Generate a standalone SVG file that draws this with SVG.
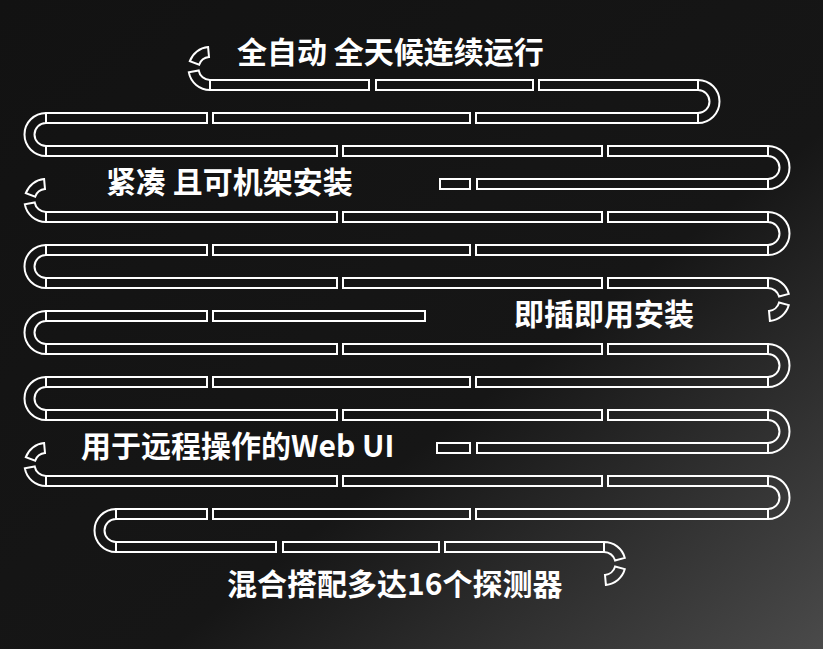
<svg xmlns="http://www.w3.org/2000/svg" width="823" height="649" viewBox="0 0 823 649">
<defs>
<linearGradient id="bg" x1="0" y1="0" x2="1" y2="1">
<stop offset="0" stop-color="#121212"/>
<stop offset="0.6" stop-color="#161616"/>
<stop offset="1" stop-color="#4a4a4a"/>
</linearGradient>
</defs>
<style>
.t{fill:none;stroke:#fff;stroke-width:2}
.lb{font-family:"Noto Sans CJK SC","Noto Sans",sans-serif;font-weight:bold;font-size:30px;fill:#fff}
</style>
<rect width="823" height="649" fill="url(#bg)"/>
<g id="belt" class="t">
<rect x="210" y="80" width="159" height="10"/><rect x="376" y="80" width="157" height="10"/><rect x="539" y="80" width="159" height="10"/>
<rect x="46" y="113" width="161" height="10"/><rect x="213" y="113" width="257" height="10"/><rect x="476" y="113" width="222" height="10"/>
<rect x="46" y="146" width="291" height="10"/><rect x="343" y="146" width="259" height="10"/><rect x="608" y="146" width="160" height="10"/>
<rect x="440" y="179" width="30" height="10"/><rect x="477" y="179" width="291" height="10"/>
<rect x="46" y="212" width="291" height="10"/><rect x="343" y="212" width="259" height="10"/><rect x="608" y="212" width="160" height="10"/>
<rect x="46" y="245" width="161" height="10"/><rect x="213" y="245" width="257" height="10"/><rect x="476" y="245" width="292" height="10"/>
<rect x="46" y="278" width="291" height="10"/><rect x="343" y="278" width="259" height="10"/><rect x="608" y="278" width="160" height="10"/>
<rect x="46" y="311" width="161" height="10"/><rect x="213" y="311" width="212" height="10"/>
<rect x="46" y="344" width="291" height="10"/><rect x="343" y="344" width="259" height="10"/><rect x="608" y="344" width="160" height="10"/>
<rect x="46" y="377" width="161" height="10"/><rect x="213" y="377" width="257" height="10"/><rect x="476" y="377" width="292" height="10"/>
<rect x="46" y="410" width="291" height="10"/><rect x="343" y="410" width="259" height="10"/><rect x="608" y="410" width="160" height="10"/>
<rect x="437" y="443" width="33" height="10"/><rect x="477" y="443" width="291" height="10"/>
<rect x="46" y="476" width="291" height="10"/><rect x="343" y="476" width="259" height="10"/><rect x="608" y="476" width="160" height="10"/>
<rect x="116" y="509" width="91" height="10"/><rect x="213" y="509" width="257" height="10"/><rect x="476" y="509" width="292" height="10"/>
<rect x="116" y="542" width="160" height="10"/><rect x="283" y="542" width="156" height="10"/><rect x="445" y="542" width="159" height="10"/>
<path d="M698,80 A21.5,21.5 0 0 1 698,123 L698,113 A11.5,11.5 0 0 0 698,90 Z"/>
<path d="M768,146 A21.5,21.5 0 0 1 768,189 L768,179 A11.5,11.5 0 0 0 768,156 Z"/>
<path d="M768,212 A21.5,21.5 0 0 1 768,255 L768,245 A11.5,11.5 0 0 0 768,222 Z"/>
<path d="M768,344 A21.5,21.5 0 0 1 768,387 L768,377 A11.5,11.5 0 0 0 768,354 Z"/>
<path d="M768,410 A21.5,21.5 0 0 1 768,453 L768,443 A11.5,11.5 0 0 0 768,420 Z"/>
<path d="M768,476 A21.5,21.5 0 0 1 768,519 L768,509 A11.5,11.5 0 0 0 768,486 Z"/>
<path d="M46,113 A21.5,21.5 0 0 0 46,156 L46,146 A11.5,11.5 0 0 1 46,123 Z"/>
<path d="M46,245 A21.5,21.5 0 0 0 46,288 L46,278 A11.5,11.5 0 0 1 46,255 Z"/>
<path d="M46,311 A21.5,21.5 0 0 0 46,354 L46,344 A11.5,11.5 0 0 1 46,321 Z"/>
<path d="M46,377 A21.5,21.5 0 0 0 46,420 L46,410 A11.5,11.5 0 0 1 46,387 Z"/>
<path d="M116,509 A21.5,21.5 0 0 0 116,552 L116,542 A11.5,11.5 0 0 1 116,519 Z"/>
<path d="M189.8,61.2 A21.5,21.5 0 0 1 208.1,47.1 L209,57 A11.5,11.5 0 0 0 199.2,64.6 Z"/>
<path d="M210,90 A21.5,21.5 0 0 1 188.8,72.2 L198.7,70.5 A11.5,11.5 0 0 0 210,80 Z"/>
<path d="M25.8,193.2 A21.5,21.5 0 0 1 44.1,179.1 L45,189 A11.5,11.5 0 0 0 35.2,196.6 Z"/>
<path d="M46,222 A21.5,21.5 0 0 1 24.8,204.2 L34.7,202.5 A11.5,11.5 0 0 0 46,212 Z"/>
<path d="M25.8,457.2 A21.5,21.5 0 0 1 44.1,443.1 L45,453 A11.5,11.5 0 0 0 35.2,460.6 Z"/>
<path d="M46,486 A21.5,21.5 0 0 1 24.8,468.2 L34.7,466.5 A11.5,11.5 0 0 0 46,476 Z"/>
<path d="M768,278 A21.5,21.5 0 0 1 788.8,293.9 L779.1,296.5 A11.5,11.5 0 0 0 768,288 Z"/>
<path d="M788.8,305.1 A21.5,21.5 0 0 1 769.9,320.9 L769,311 A11.5,11.5 0 0 0 779.1,302.5 Z"/>
<path d="M604,542 A21.5,21.5 0 0 1 624.8,557.9 L615.1,560.5 A11.5,11.5 0 0 0 604,552 Z"/>
<path d="M624.8,569.1 A21.5,21.5 0 0 1 605.9,584.9 L605,575 A11.5,11.5 0 0 0 615.1,566.5 Z"/>
</g>
<g id="labels">
<text id="l1" class="lb" x="237" y="63">全自动 全天候连续运行</text>
<text id="l2" class="lb" x="106" y="193">紧凑 且可机架安装</text>
<text id="l3" class="lb" x="514" y="325">即插即用安装</text>
<text id="l4" class="lb" x="81" y="457">用于远程操作的Web UI</text>
<text id="l5" class="lb" x="227" y="595">混合搭配多达16个探测器</text>
</g>
</svg>
